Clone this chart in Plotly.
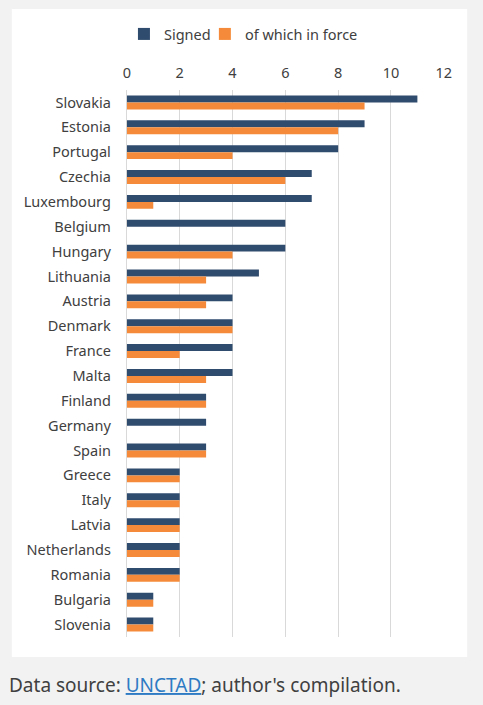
import plotly.graph_objects as go

countries = ["Slovakia", "Estonia", "Portugal", "Czechia", "Luxembourg", "Belgium", "Hungary",
             "Lithuania", "Austria", "Denmark", "France", "Malta", "Finland", "Germany", "Spain",
             "Greece", "Italy", "Latvia", "Netherlands", "Romania", "Bulgaria", "Slovenia"]
signed = [11, 9, 8, 7, 7, 6, 6, 5, 4, 4, 4, 4, 3, 3, 3, 2, 2, 2, 2, 2, 1, 1]
in_force = [9, 8, 4, 6, 1, 0, 4, 3, 3, 4, 2, 3, 3, 0, 3, 2, 2, 2, 2, 2, 1, 1]
x_ticks = [0, 2, 4, 6, 8, 10, 12]

W, H = 483, 705
FONT = "Noto Sans"
TXT = "#404040"

fig = go.Figure()
fig.add_trace(go.Bar(y=countries, x=signed, orientation="h", name="Signed",
                     marker=dict(color="#2F4B6E", line=dict(width=0)), legend="legend"))
fig.add_trace(go.Bar(y=countries, x=in_force, orientation="h", name="of which in force",
                     marker=dict(color="#F58B3A", line=dict(width=0)), legend="legend2"))

leg_common = dict(orientation="h", xanchor="left", y=1 - 34 / H, yanchor="middle",
                  font=dict(size=14.5, color=TXT), bgcolor="rgba(0,0,0,0)", itemwidth=30)

fig.update_layout(
    width=W, height=H,
    margin=dict(l=0, r=0, t=0, b=0),
    paper_bgcolor="#F2F2F2",
    plot_bgcolor="white",
    barmode="group", bargap=0.44, bargroupgap=0,
    font=dict(family=FONT, size=14.5, color=TXT),
    showlegend=True,
    legend=dict(x=123 / W, **leg_common),
    legend2=dict(x=206 / W, **leg_common),
    xaxis=dict(domain=[126 / W, 451 / W], range=[0, 12], side="top",
               tickvals=x_ticks, showgrid=True, gridcolor="#D9D9D9", gridwidth=1,
               zeroline=True, zerolinecolor="#D9D9D9", zerolinewidth=1,
               showline=False, ticks="", ticklabelstandoff=8,
               tickfont=dict(size=14.5, color=TXT), fixedrange=True),
    yaxis=dict(domain=[1 - 637 / H, 1 - 90 / H], autorange="reversed",
               type="category", showgrid=False, ticks="", ticklabelstandoff=15,
               tickfont=dict(size=14.5, color=TXT), fixedrange=True),
    shapes=[dict(type="rect", xref="paper", yref="paper", layer="below",
                 x0=8 / W, x1=475 / W, y0=1 - 657 / H, y1=1 - 9 / H,
                 fillcolor="white", line=dict(width=0))],
    annotations=[dict(xref="paper", yref="paper", x=3 / W, y=1 - 685 / H,
                      xanchor="left", yanchor="middle", showarrow=False,
                      text="Data source: <span style='color:#2E7BC4'><u>UNCTAD</u></span>; author's compilation.",
                      font=dict(family=FONT, size=19, color=TXT))],
)

fig.write_html("out.html", config={"displayModeBar": False},
               post_script="document.body.style.margin='0';document.body.style.background='#F2F2F2';")
